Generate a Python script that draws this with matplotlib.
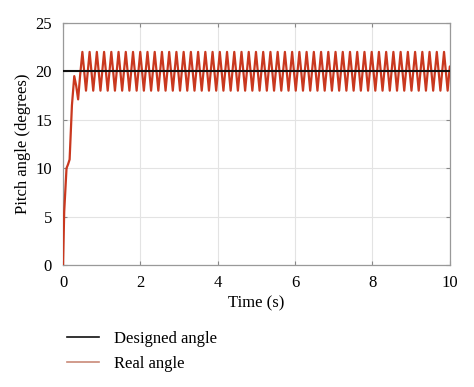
import numpy as np
import matplotlib
matplotlib.use("Agg")
import matplotlib.pyplot as plt
from matplotlib.lines import Line2D

# designed (reference) pitch angle
designed_t = [0, 10]
designed_y = [20, 20]

# start-up transient of the real angle
transient_t = [0.0, 0.03, 0.09, 0.13, 0.17, 0.23, 0.29, 0.34, 0.39, 0.44]
transient_y = [0.0, 5.5, 10.0, 10.4, 10.9, 16.5, 19.5, 18.5, 17.1, 19.5]

# steady oscillation: first peak, period, peak/trough levels
osc_first_peak = 0.50
osc_period = 0.187
osc_peak = 22.0
osc_trough = 18.0

osc_t = np.arange(osc_first_peak, 10.0, osc_period / 2)
osc_y = np.where(np.arange(len(osc_t)) % 2 == 0, osc_peak, osc_trough)

real_t = np.concatenate([transient_t, osc_t, [10.0]])
real_y = np.concatenate([transient_y, osc_y, [20.5]])

plt.rcParams['font.family'] = ['Liberation Serif', 'DejaVu Serif']

fig = plt.figure(figsize=(4.74, 3.87), dpi=100)
ax = fig.add_axes([0.133, 0.315, 0.816, 0.626])

red = '#c9381f'
ax.plot(real_t, real_y, color=red, lw=1.6, zorder=3,
        solid_joinstyle='round', solid_capstyle='round')
ax.plot(designed_t, designed_y, color='#111111', lw=1.5, zorder=4)

ax.set_xlim(0, 10)
ax.set_ylim(0, 25)
ax.set_xticks([0, 2, 4, 6, 8, 10])
ax.set_yticks([0, 5, 10, 15, 20, 25])
ax.grid(True, color='#e3e3e3', lw=0.8)
ax.set_axisbelow(True)
ax.tick_params(direction='in', length=3, labelsize=12, color='#888888',
               top=True, right=True)
ax.tick_params(axis='x', pad=7)
ax.tick_params(axis='y', pad=8)
for s in ax.spines.values():
    s.set_color('#999999')
    s.set_linewidth(0.9)

ax.set_xlabel('Time (s)', fontsize=12, labelpad=3)
ax.set_ylabel('Pitch angle (degrees)', fontsize=12, labelpad=3)

handles = [Line2D([], [], color='#111111', lw=1.2),
           Line2D([], [], color='#c98a78', lw=1.2)]
fig.legend(handles, ['Designed angle', 'Real angle'], loc='upper left',
           bbox_to_anchor=(0.128, 0.163), frameon=False, fontsize=12,
           handlelength=1.9, handletextpad=0.9, labelspacing=0.55,
           borderaxespad=0)

fig.savefig('out.png', dpi=100)
